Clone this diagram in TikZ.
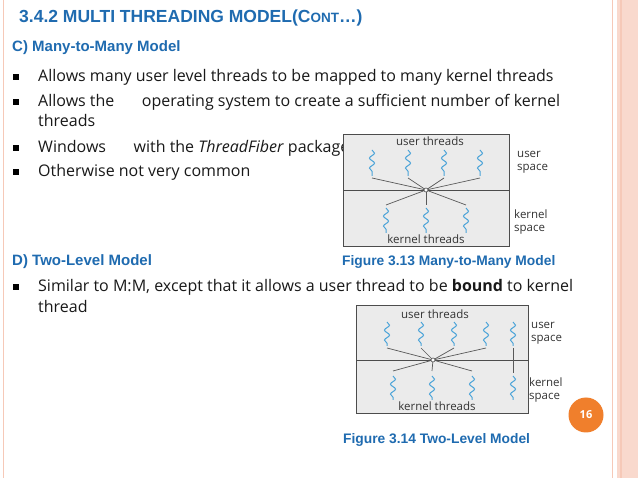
\documentclass[tikz,border=0pt]{standalone}
\usepackage{fontspec}
\setmainfont{Open Sans}
\newfontfamily\hd{Liberation Sans}
\usetikzlibrary{decorations.pathmorphing}
\definecolor{hblue}{HTML}{1F6BB0}
\definecolor{wblue}{HTML}{4AA3D8}
\definecolor{pnk}{HTML}{F6C9B8}
\definecolor{org}{HTML}{F07F2C}
\begin{document}
\begin{tikzpicture}[x=1pt,y=-1pt,
  body/.style={anchor=west,inner sep=0pt,font=\fontsize{16}{19}\selectfont,text=black!90},
  head/.style={anchor=west,inner sep=0pt,font=\hd\bfseries\fontsize{15}{18}\selectfont,text=hblue},
  figcap/.style={anchor=west,inner sep=0pt,font=\hd\bfseries\fontsize{13.8}{16}\selectfont,text=hblue},
  bul/.style={fill=black,minimum size=6pt,inner sep=0pt},
  box/.style={draw=black!70,fill=black!8,line width=0.6pt},
  lab/.style={font=\fontsize{11.5}{13}\selectfont,text=black!80,inner sep=0pt},
  wv/.style={draw=wblue,line width=1pt,decorate,decoration={snake,segment length=10pt,amplitude=2.5pt}},
  cn/.style={draw=black!65,line width=0.7pt}]
\useasboundingbox (0,0) rectangle (638,478);
\fill[white] (0,0) rectangle (638,478);
\fill[pnk!70] (617,0) rectangle (638,478);
\draw[pnk,line width=1.2pt] (621,0) -- (621,478);
\draw[pnk,line width=1pt] (3,0) -- (3,478) (612,0) -- (612,478);
% title
\node[anchor=west,inner sep=0pt,text=hblue,font=\hd\bfseries\fontsize{17.5}{20}\selectfont] (t) at (19,18) {3.4.2 MULTI THREADING MODEL(C{\fontsize{13.5}{16}\selectfont ONT}…)};
\node[head] (c) at (12,48) {C) Many-to-Many Model};
\foreach \y/\n in {77/b1,102/b2,148/b3,172/b4,287/b5}{\node[bul] (\n) at (16,\y) {};}
\node[body] (l1) at (38,77) {Allows many user level threads to be mapped to many kernel threads};
\node[body] (l2) at (38,102) {Allows the \hspace{1.2em} operating system to create a sufficient number of kernel};
\node[body] (l2b) at (38,121) {threads};
\node[body] (l3) at (38,148) {Windows \hspace{1.2em} with the \textit{ThreadFiber} package};
\node[body] (l4) at (38,172) {Otherwise not very common};
\node[head] (d) at (12,262) {D) Two-Level Model};
\node[body] (l5) at (38,287) {Similar to M:M, except that it allows a user thread to be \textbf{bound} to kernel};
\node[body] (l5b) at (38,307) {thread};
% diagram 1
\draw[box] (343,134) rectangle (509,246);
\draw[black!70,line width=0.6pt] (343,190) -- (509,190);
\node[lab] (ut1) at (430,141) {user threads};
\node[lab] (kt1) at (426,239) {kernel threads};
\node[lab,align=left,anchor=west] (us1) at (517,162) {user\\space};
\node[lab,align=left,anchor=west] (ks1) at (514,222) {kernel\\space};
\coordinate (m1) at (426,190);
\foreach \x [count=\i] in {372,408,444,480}{
  \draw[wv] (\x,150) -- (\x,176);
  \coordinate (u\i) at (\x,178);
  \draw[cn] (u\i) -- (m1);}
\foreach \x [count=\i] in {386,426,466}{
  \draw[wv] (\x,208) -- (\x,233);
  \coordinate (k\i) at (\x,205);
  \draw[cn] (k\i) -- (m1);}
\draw[black!70,fill=white,line width=0.6pt] (m1) circle (2pt);
\node[figcap] (f1) at (342,262) {Figure 3.13 Many-to-Many Model};
% diagram 2
\draw[box] (356,305) rectangle (528,413);
\draw[black!70,line width=0.6pt] (356,360) -- (528,360);
\node[lab] (ut2) at (435,314) {user threads};
\node[lab] (kt2) at (437,406) {kernel threads};
\node[lab,align=left,anchor=west] (us2) at (531,333) {user\\space};
\node[lab,align=left,anchor=west] (ks2) at (529,390) {kernel\\space};
\coordinate (m2) at (433,360);
\foreach \x [count=\i] in {387,421,454,486}{
  \draw[wv] (\x,322) -- (\x,346);
  \coordinate (v\i) at (\x,348);
  \draw[cn] (v\i) -- (m2);}
\draw[wv] (513,322) -- (513,346);
\foreach \x [count=\i] in {393,432,472}{
  \draw[wv] (\x,376) -- (\x,400);
  \coordinate (w\i) at (\x,371);
  \draw[cn] (w\i) -- (m2);}
\draw[wv] (513,376) -- (513,400);
\coordinate (va) at (513,348);
\coordinate (wa) at (513,373);
\draw[cn] (va) -- (wa);
\draw[black!70,fill=white,line width=0.6pt] (m2) circle (2pt);
\node[figcap] (f2) at (343,440) {Figure 3.14 Two-Level Model};
% page number
\node[circle,fill=org,minimum size=35pt,inner sep=0pt,text=white,font=\bfseries\fontsize{11}{13}\selectfont] (pg) at (586,415) {16};
\end{tikzpicture}
\end{document}
